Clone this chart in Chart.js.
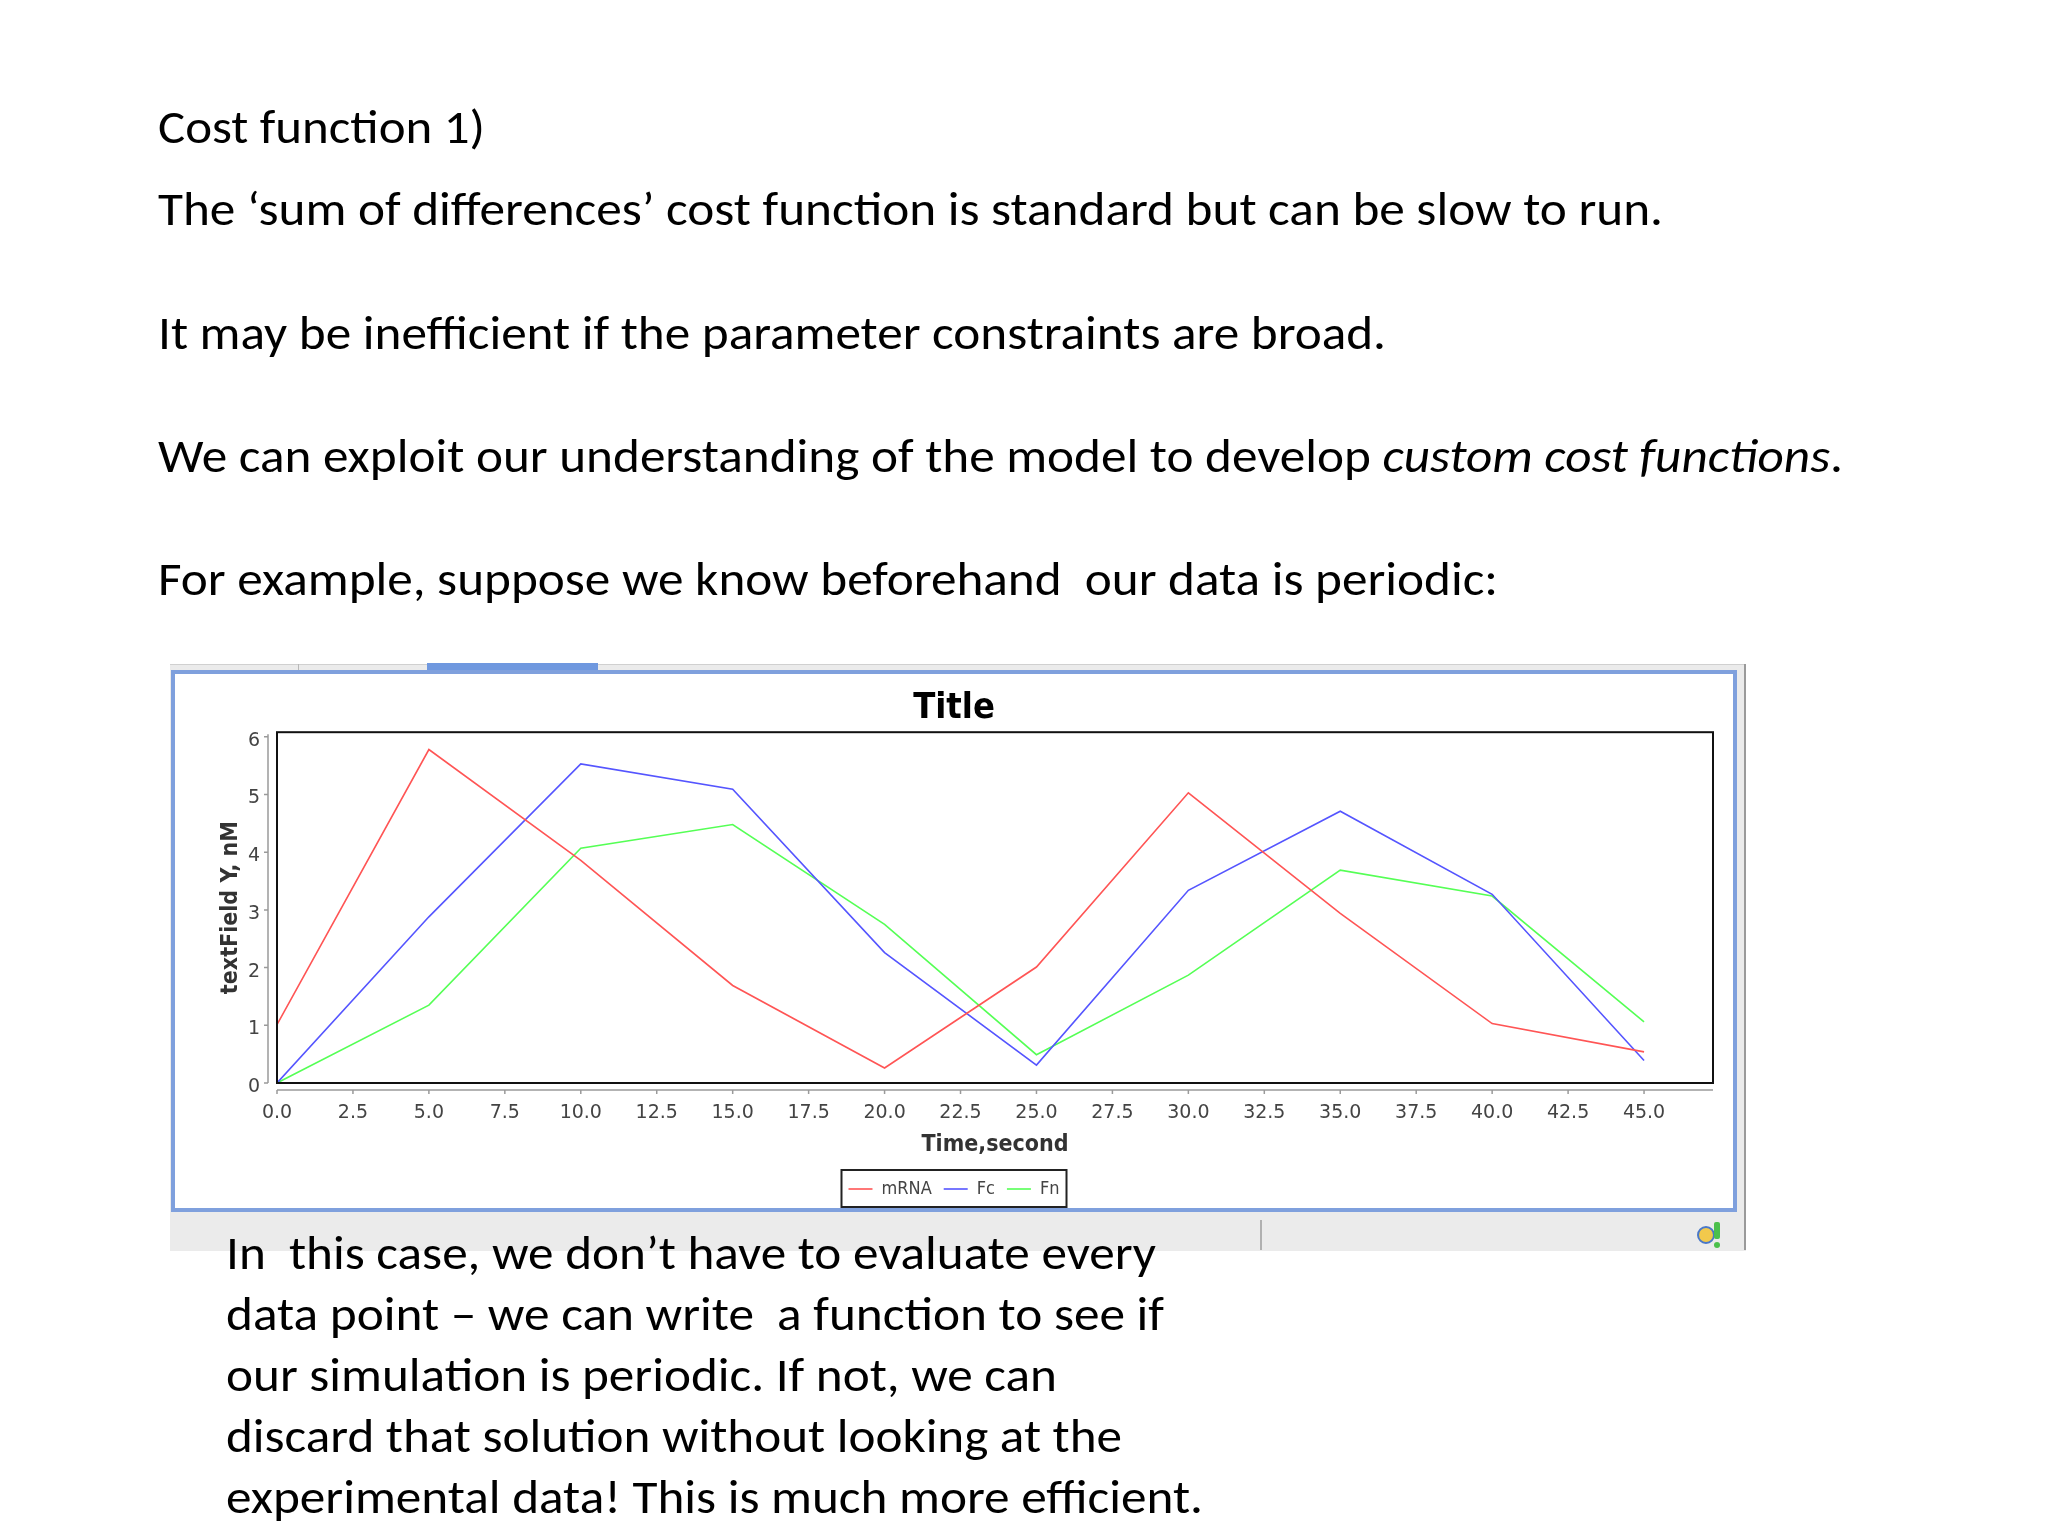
<!DOCTYPE html>
<html>
<head>
<meta charset="utf-8">
<script src="https://cdn.jsdelivr.net/npm/chart.js@4.4.1/dist/chart.umd.min.js"></script>
<style>
  body { margin: 0; width: 2048px; height: 1536px; position: relative; overflow: hidden; background: #fff; }
  .t { position: absolute; white-space: nowrap; font-family: Carlito, Lato, "Open Sans", sans-serif; font-size: 48px; color: #000; transform-origin: 0 0; }
  .abs { position: absolute; }
</style>
</head>
<body>
<div class="t" data-x="158" data-b="143" data-w="327">Cost function 1)</div>
<div class="t" data-x="158" data-b="225" data-w="1505">The ‘sum of differences’ cost function is standard but can be slow to run.</div>
<div class="t" data-x="158" data-b="349" data-w="1228">It may be inefficient if the parameter constraints are broad.</div>
<div class="t" data-x="158" data-b="472" data-w="1685">We can exploit our understanding of the model to develop <i>custom cost functions</i>.</div>
<div class="t" data-x="158" data-b="595" data-w="1340">For example, suppose we know beforehand&nbsp; our data is periodic:</div>

<!-- swing-style chart window -->
<div class="abs" style="left:170px;top:664px;width:1576px;height:586px;background:#ebebeb;border-top:1px solid #d0d0d0;"></div>
<div class="abs" style="left:298px;top:664px;width:1px;height:6px;background:#b8b8b8;"></div>
<div class="abs" style="left:427px;top:663px;width:171px;height:8px;background:#6f98df;"></div>
<div class="abs" style="left:1744px;top:664px;width:2px;height:586px;background:#9a9a9a;"></div>
<div class="abs" style="left:171px;top:670px;width:1558px;height:534px;border:4px solid #7fa0dd;background:#fff;"></div>
<div class="abs" style="left:1260px;top:1220px;width:2px;height:30px;background:#b0b0b0;"></div>
<div class="abs" style="left:1697px;top:1226px;width:14px;height:14px;border:2px solid #4a78c8;border-radius:50%;background:#f2c94c;"></div>
<div class="abs" style="left:1714px;top:1222px;width:6px;height:17px;background:#4cc04c;border-radius:2px;"></div>
<div class="abs" style="left:1714px;top:1242px;width:6px;height:6px;background:#4cc04c;border-radius:50%;"></div>
<canvas id="c" width="1558" height="534" style="position:absolute;left:175px;top:674px;width:1558px;height:534px;"></canvas>

<div class="t" data-x="226" data-b="1269" data-w="930">In&nbsp; this case, we don’t have to evaluate every</div>
<div class="t" data-x="226" data-b="1330" data-w="938">data point – we can write&nbsp; a function to see if</div>
<div class="t" data-x="226" data-b="1391" data-w="831">our simulation is periodic. If not, we can</div>
<div class="t" data-x="226" data-b="1452" data-w="896">discard that solution without looking at the</div>
<div class="t" data-x="226" data-b="1513" data-w="977">experimental data! This is much more efficient.</div>

<script>
// values
const times = [0, 5, 10, 15, 20, 25, 30, 35, 40, 45];
const mRNA = [1.01, 5.78, 3.86, 1.69, 0.26, 2.01, 5.03, 2.94, 1.03, 0.54];
const Fc = [0, 2.88, 5.53, 5.09, 2.26, 0.31, 3.34, 4.71, 3.27, 0.39];
const Fn = [0, 1.35, 4.07, 4.48, 2.75, 0.49, 1.87, 3.69, 3.24, 1.06];
const seriesNames = ['mRNA', 'Fc', 'Fn'];
const seriesColors = ['#ff5555', '#5555ff', '#55ff55'];
const xTicks = [0, 2.5, 5, 7.5, 10, 12.5, 15, 17.5, 20, 22.5, 25, 27.5, 30, 32.5, 35, 37.5, 40, 42.5, 45];
const yTicks = [0, 1, 2, 3, 4, 5, 6];

const AXIS_FONT = 'DejaVu Sans';
const BOLD_FONT = '"DejaVu Sans Condensed", "DejaVu Sans"';

function placeTexts() {
  document.querySelectorAll('.t').forEach(el => {
    el.style.left = el.dataset.x + 'px';
    el.style.top = '0px';
    const m = document.createElement('span');
    m.style.cssText = 'display:inline-block;width:0;height:0;vertical-align:baseline';
    el.appendChild(m);
    el.style.top = (Number(el.dataset.b) - m.offsetTop) + 'px';
    const w = el.getBoundingClientRect().width;
    if (w > 0) el.style.transform = `scaleX(${Number(el.dataset.w) / w})`;
  });
}

// jfreechart look: framed plot, axis lines offset outside the data area, boxed legend
const jfreeFrame = {
  id: 'jfreeFrame',
  afterDraw(chart) {
    const { ctx, chartArea: a, scales: { x, y } } = chart;
    ctx.save();
    ctx.strokeStyle = '#111'; ctx.lineWidth = 2;
    ctx.strokeRect(a.left, a.top, a.right - a.left, a.bottom - a.top);

    ctx.strokeStyle = '#9a9a9a'; ctx.lineWidth = 1.5;
    const ax = a.left - 9, ay = a.bottom + 7;
    ctx.beginPath();
    ctx.moveTo(ax, a.top + 2); ctx.lineTo(ax, a.bottom);
    y.ticks.forEach(t => { const py = y.getPixelForValue(t.value); ctx.moveTo(ax - 4, py); ctx.lineTo(ax, py); });
    ctx.moveTo(a.left, ay); ctx.lineTo(a.right, ay);
    x.ticks.forEach(t => { const px = x.getPixelForValue(t.value); ctx.moveTo(px, ay); ctx.lineTo(px, ay + 4); });
    ctx.stroke();

    const hb = chart.legend.legendHitBoxes;
    if (hb && hb.length) {
      const l = hb[0].left - 7, last = hb[hb.length - 1], r = last.left + last.width + 7;
      const top = chart.legend.top + 2, bot = chart.legend.bottom - 1;
      ctx.strokeStyle = '#222'; ctx.lineWidth = 2;
      ctx.strokeRect(l, top, r - l, bot - top);
    }
    ctx.restore();
  }
};

function drawChart() {
  const series = [mRNA, Fc, Fn];
  new Chart(document.getElementById('c'), {
    type: 'line',
    data: {
      datasets: series.map((vals, i) => ({
        label: seriesNames[i],
        data: times.map((t, j) => ({ x: t, y: vals[j] })),
        borderColor: seriesColors[i], backgroundColor: seriesColors[i],
        borderWidth: 1.6, pointRadius: 0, tension: 0, fill: false
      }))
    },
    options: {
      responsive: false, animation: false, devicePixelRatio: 1,
      layout: { padding: 0 },
      plugins: {
        title: { display: true, text: 'Title', color: '#000', font: { family: BOLD_FONT, size: 36, weight: 'bold' }, padding: { top: 13, bottom: 2 } },
        legend: {
          position: 'bottom',
          labels: { usePointStyle: true, pointStyle: 'line', pointStyleWidth: 24, padding: 12, color: '#444', font: { family: BOLD_FONT, size: 18 } }
        },
        tooltip: { enabled: false }
      },
      scales: {
        x: {
          type: 'linear', min: 0, max: 47.27,
          afterBuildTicks: s => { s.ticks = xTicks.map(v => ({ value: v })); },
          afterFit: s => { s.height = 85; },
          grid: { display: false, drawTicks: false }, border: { display: false },
          ticks: { autoSkip: false, maxRotation: 0, padding: 19, color: '#444', font: { family: AXIS_FONT, size: 19 }, callback: v => Number(v).toFixed(1) },
          title: { display: true, text: 'Time,second', color: '#333', font: { family: BOLD_FONT, size: 23, weight: 'bold' }, padding: { top: 0, bottom: 9 } }
        },
        y: {
          min: 0, max: 6.08,
          afterBuildTicks: s => { s.ticks = yTicks.map(v => ({ value: v })); },
          afterFit: s => { s.width = 102; },
          grid: { display: false, drawTicks: false }, border: { display: false },
          ticks: { padding: 17, labelOffset: 4, color: '#444', font: { family: AXIS_FONT, size: 19 }, callback: v => String(v) },
          title: { display: true, text: 'textField Y, nM', color: '#333', font: { family: BOLD_FONT, size: 23, weight: 'bold' }, padding: { top: 42, bottom: 0 } }
        },
        // empty right-hand gutter so the title and legend centre on the whole panel
        gutter: {
          type: 'linear', position: 'right', display: true,
          afterFit: s => { s.width = 20; },
          grid: { display: false, drawTicks: false }, border: { display: false },
          ticks: { display: false }
        }
      }
    },
    plugins: [jfreeFrame]
  });
}

document.fonts.ready.then(() => { placeTexts(); drawChart(); });
</script>
</body>
</html>
